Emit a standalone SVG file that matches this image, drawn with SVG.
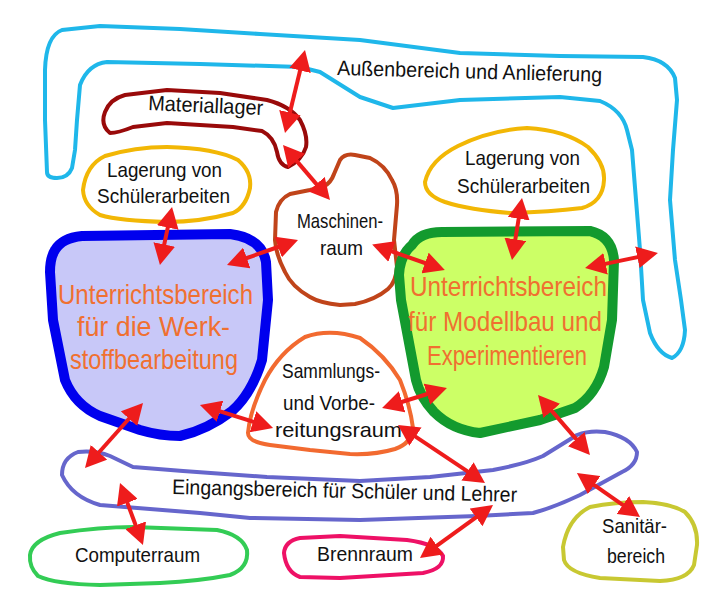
<svg xmlns="http://www.w3.org/2000/svg" width="720" height="600" viewBox="0 0 720 600">
<defs>
<style>
.sh{fill:none;stroke-width:4;stroke-linejoin:round;stroke-linecap:round}
.lb{font-family:"Liberation Sans Narrow","Liberation Sans",Arial,sans-serif;font-size:21px;fill:#111}
.big{font-family:"Liberation Sans Narrow","Liberation Sans",Arial,sans-serif;font-size:28px;fill:#f07030}
.ar{stroke:#ee1c1c;stroke-width:4;fill:none;marker-start:url(#ah);marker-end:url(#ah)}
</style>
<marker id="ah" markerUnits="userSpaceOnUse" viewBox="0 0 21 22" markerWidth="21" markerHeight="22" refX="9" refY="11" orient="auto-start-reverse">
<path d="M0,0 L21,11 L0,22 Z" fill="#ee1c1c"/>
</marker>
</defs>
<rect width="720" height="600" fill="#fff"/>

<g id="aussenbereich">
<path class="sh" stroke="#1fb7ea" stroke-width="5" d="M47,172 L45,120 L45,70 Q46,36 62,30 L100,26 L180,29 L260,34 L360,40 L460,53 L560,56 L643,57 Q668,60 675,78 L677,100 L673,150 L670,200 L675,260 L681,300 L685,330 Q684,352 672,358 Q658,354 650,333 L643,300 L640,250 L636,200 L632,150 L627,130 Q622,110 600,101 L560,97 L460,100 L393,108 L360,97 L320,72 L300,67 L200,64 L107,62 Q88,64 80,85 L77,120 L75,150 L72,168 Q68,178 57,178 Q47,178 47,172 Z"/>
<text class="lb" x="337" y="75" textLength="265" lengthAdjust="spacingAndGlyphs" transform="rotate(1.5 337 75)">Außenbereich und Anlieferung</text>
</g>

<g id="materiallager">
<path class="sh" stroke="#990a0a" d="M110,133 Q100,125 105,112 Q110,99 125,95 L167,90 L220,93 L267,100 Q290,106 300,120 Q308,135 306,147 Q302,160 288,167 Q279,165 277,152 Q274,137 262,131 L233,127 L167,123 L133,127 Q118,133 110,133 Z"/>
<text class="lb" x="148" y="110" textLength="115" lengthAdjust="spacingAndGlyphs" transform="rotate(2.5 148 110)">Materiallager</text>
</g>

<g id="lagerung-links">
<path class="sh" stroke="#f2b705" d="M83,190 Q86,165 105,156 Q135,147 167,147 Q215,148 238,160 Q252,172 250,188 Q246,207 233,213 Q200,222 167,222 Q120,221 100,215 Q84,206 83,190 Z"/>
<text class="lb" x="107" y="177" textLength="115" lengthAdjust="spacingAndGlyphs">Lagerung von</text>
<text class="lb" x="97" y="203" textLength="133" lengthAdjust="spacingAndGlyphs">Schülerarbeiten</text>
</g>

<g id="lagerung-rechts">
<path class="sh" stroke="#f2b705" d="M425,182 Q430,160 458,146 Q490,130 527,128 Q565,130 588,147 Q605,163 604,180 Q603,202 582,208 Q550,212 510,213 Q470,210 445,202 Q425,195 425,182 Z"/>
<text class="lb" x="465" y="165" textLength="115" lengthAdjust="spacingAndGlyphs">Lagerung von</text>
<text class="lb" x="457" y="193" textLength="133" lengthAdjust="spacingAndGlyphs">Schülerarbeiten</text>
</g>

<g id="maschinenraum">
<path class="sh" stroke="#c0441a" d="M340,160 Q345,153 355,155 L370,158 Q385,165 392,180 Q398,190 397,205 L394,240 L397,267 Q396,282 388,289 Q375,300 355,304 L340,305 Q320,303 310,297 Q292,287 285,272 Q276,255 275,240 L276,212 Q279,199 290,194 L310,190 L323,187 Q331,183 334,174 Z"/>
<text class="lb" x="297" y="228" textLength="86" lengthAdjust="spacingAndGlyphs">Maschinen-</text>
<text class="lb" x="320" y="255" textLength="43" lengthAdjust="spacingAndGlyphs">raum</text>
</g>

<g id="werkstoff">
<path stroke="#0000ee" stroke-width="10" fill="#c8c8f8" stroke-linejoin="round" d="M55,250 Q62,238 82,236 L230,234 Q262,238 266,262 L268,300 L262,360 Q252,393 232,411 Q207,430 180,436 Q160,436 140,430 L100,416 Q75,405 65,380 L53,320 L50,272 Q50,258 55,250 Z"/>
<text class="big" x="58" y="304" textLength="195" lengthAdjust="spacingAndGlyphs">Unterrichtsbereich</text>
<text class="big" x="77" y="336" textLength="153" lengthAdjust="spacingAndGlyphs">für die Werk-</text>
<text class="big" x="70" y="369" textLength="168" lengthAdjust="spacingAndGlyphs">stoffbearbeitung</text>
</g>

<g id="modellbau">
<path stroke="#139a2e" stroke-width="10" fill="#ccff66" stroke-linejoin="round" d="M412,245 Q420,232 442,232 L590,231 Q612,236 614,260 L612,320 L604,367 Q596,395 575,408 L540,420 L480,433 Q452,430 434,412 Q420,397 416,380 L401,300 L399,275 Q400,255 412,245 Z"/>
<text class="big" x="410" y="296" textLength="197" lengthAdjust="spacingAndGlyphs">Unterrichtsbereich</text>
<text class="big" x="408" y="331" textLength="194" lengthAdjust="spacingAndGlyphs">für Modellbau und</text>
<text class="big" x="427" y="365" textLength="160" lengthAdjust="spacingAndGlyphs">Experimentieren</text>
</g>

<g id="sammlung">
<path class="sh" stroke="#f26a30" d="M248,433 Q250,410 265,380 Q280,352 305,337 Q330,328 360,338 Q385,355 400,380 Q410,405 413,428 Q412,443 395,449 Q375,455 350,454 L310,450 L270,445 Q248,442 248,433 Z"/>
<text class="lb" x="282" y="378" textLength="98" lengthAdjust="spacingAndGlyphs">Sammlungs-</text>
<text class="lb" x="283" y="410" textLength="92" lengthAdjust="spacingAndGlyphs">und Vorbe-</text>
<text class="lb" x="275" y="437" textLength="127" lengthAdjust="spacingAndGlyphs">reitungsraum</text>
</g>

<g id="eingang">
<path class="sh" stroke="#6666cc" d="M62,475 Q62,458 78,452 Q95,450 110,456 L133,467 L183,471 L267,477 L360,481 L430,477 L493,470 Q525,464 543,456 L577,435 Q590,430 605,432 Q630,437 637,452 Q637,465 622,472 L580,495 Q555,507 533,513 L477,516 L360,520 L250,518 L200,513 L100,505 Q72,497 62,475 Z"/>
<text class="lb" x="172" y="494" textLength="345" lengthAdjust="spacingAndGlyphs" transform="rotate(1.3 172 494)">Eingangsbereich für Schüler und Lehrer</text>
</g>

<g id="computerraum">
<path class="sh" stroke="#33cc55" d="M30,555 Q32,540 60,533 Q100,527 133,527 L217,530 Q242,535 247,550 Q249,568 230,575 Q200,581 160,583 L100,585 Q55,584 38,576 Q29,567 30,555 Z"/>
<text class="lb" x="75" y="562" textLength="125" lengthAdjust="spacingAndGlyphs">Computerraum</text>
</g>

<g id="brennraum">
<path class="sh" stroke="#ee1166" d="M284,553 Q285,541 300,538 L340,536 L407,540 Q437,544 443,556 Q444,569 423,573 L340,578 L300,577 Q286,572 284,553 Z"/>
<text class="lb" x="317" y="561" textLength="96" lengthAdjust="spacingAndGlyphs">Brennraum</text>
</g>

<g id="sanitaer">
<path class="sh" stroke="#c8c832" d="M563,547 Q568,518 590,507 Q615,502 643,502 Q670,503 685,512 Q698,525 697,545 L694,565 Q688,580 660,581 L600,578 Q568,573 564,560 Z"/>
<text class="lb" x="602" y="533" textLength="65" lengthAdjust="spacingAndGlyphs">Sanitär-</text>
<text class="lb" x="607" y="563" textLength="58" lengthAdjust="spacingAndGlyphs">bereich</text>
</g>

<g id="connectors">
<line class="ar" x1="302.2" y1="61.7" x2="287.8" y2="121.3"/>
<line class="ar" x1="290.8" y1="154.1" x2="322.2" y2="190.9"/>
<line class="ar" x1="169.6" y1="218.8" x2="162.4" y2="253.2"/>
<line class="ar" x1="286.7" y1="244" x2="238.3" y2="261"/>
<line class="ar" x1="383.5" y1="248.5" x2="433.5" y2="266"/>
<line class="ar" x1="520.1" y1="209.8" x2="513.9" y2="248.2"/>
<line class="ar" x1="596.8" y1="265.6" x2="646.2" y2="255.4"/>
<line class="ar" x1="135" y1="412" x2="93" y2="459"/>
<line class="ar" x1="211.4" y1="408.6" x2="261.6" y2="424.4"/>
<line class="ar" x1="393.5" y1="404.5" x2="435.5" y2="391.5"/>
<line class="ar" x1="408" y1="431.7" x2="475" y2="476.3"/>
<line class="ar" x1="545.9" y1="404.1" x2="582.1" y2="445.9"/>
<line class="ar" x1="586.8" y1="479.9" x2="630.2" y2="510.1"/>
<line class="ar" x1="483.3" y1="512.1" x2="429.7" y2="550.9"/>
<line class="ar" x1="124.2" y1="494.3" x2="138.8" y2="533.7"/>
</g>
</svg>
